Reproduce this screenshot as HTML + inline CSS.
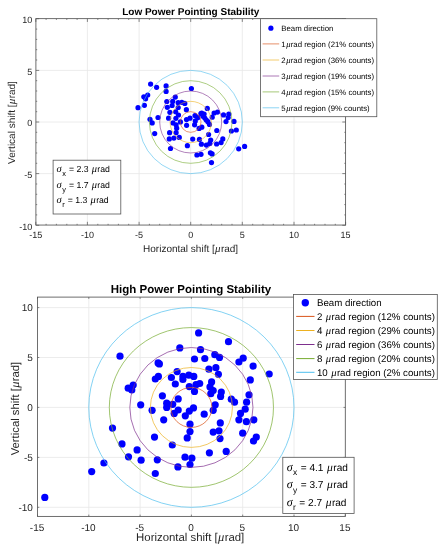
<!DOCTYPE html>
<html><head><meta charset="utf-8"><title>Pointing Stability</title>
<style>html,body{margin:0;padding:0;background:#fff}svg{display:block}text{font-family:"Liberation Sans",Arial,Helvetica,sans-serif;text-rendering:geometricPrecision}.s{font-family:"Liberation Serif","DejaVu Serif",serif;font-style:italic}</style></head><body>
<svg width="443" height="550" viewBox="0 0 443 550">
<rect width="443" height="550" fill="#fff"/>
<path d="M87.4 18.65V225.1M139.1 18.65V225.1M190.7 18.65V225.1M242.3 18.65V225.1M294.0 18.65V225.1M35.9 173.6H345.6M35.9 122.0H345.6M35.9 70.4H345.6" stroke="#e7e7e7" stroke-width="0.8" fill="none"/>
<g fill="#0000ff"><circle cx="150.6" cy="84.1" r="2.6"/><circle cx="156.6" cy="87.3" r="2.6"/><circle cx="166.1" cy="85.9" r="2.6"/><circle cx="166.1" cy="91.4" r="2.6"/><circle cx="147.7" cy="95.0" r="2.6"/><circle cx="143.8" cy="96.8" r="2.6"/><circle cx="145.6" cy="98.8" r="2.6"/><circle cx="144.4" cy="105.3" r="2.6"/><circle cx="138.0" cy="107.7" r="2.6"/><circle cx="166.8" cy="101.5" r="2.6"/><circle cx="167.3" cy="107.3" r="2.6"/><circle cx="169.9" cy="112.3" r="2.6"/><circle cx="158.0" cy="117.5" r="2.6"/><circle cx="168.6" cy="118.2" r="2.6"/><circle cx="150.0" cy="119.3" r="2.6"/><circle cx="152.2" cy="122.9" r="2.6"/><circle cx="191.4" cy="88.5" r="2.6"/><circle cx="175.3" cy="97.1" r="2.6"/><circle cx="172.7" cy="101.4" r="2.6"/><circle cx="172.1" cy="105.5" r="2.6"/><circle cx="178.2" cy="102.7" r="2.6"/><circle cx="181.8" cy="102.3" r="2.6"/><circle cx="184.8" cy="103.4" r="2.6"/><circle cx="178.2" cy="107.5" r="2.6"/><circle cx="186.4" cy="109.7" r="2.6"/><circle cx="175.7" cy="111.8" r="2.6"/><circle cx="178.5" cy="115" r="2.6"/><circle cx="175.9" cy="118.3" r="2.6"/><circle cx="180.4" cy="121.9" r="2.6"/><circle cx="173.0" cy="122.9" r="2.6"/><circle cx="186.5" cy="119.6" r="2.6"/><circle cx="190" cy="118.2" r="2.6"/><circle cx="195" cy="115.5" r="2.6"/><circle cx="197.7" cy="117.7" r="2.6"/><circle cx="200.9" cy="113.6" r="2.6"/><circle cx="204.1" cy="114.1" r="2.6"/><circle cx="195.3" cy="120.9" r="2.6"/><circle cx="204.8" cy="118.0" r="2.6"/><circle cx="207.3" cy="108.4" r="2.6"/><circle cx="217.5" cy="112.1" r="2.6"/><circle cx="214.1" cy="113" r="2.6"/><circle cx="212.2" cy="117.2" r="2.6"/><circle cx="201.7" cy="113.2" r="2.6"/><circle cx="207.9" cy="121.7" r="2.6"/><circle cx="209.5" cy="124.4" r="2.6"/><circle cx="223.5" cy="114.9" r="2.6"/><circle cx="228.8" cy="114" r="2.6"/><circle cx="228.2" cy="117.6" r="2.6"/><circle cx="226" cy="121.6" r="2.6"/><circle cx="234" cy="121.4" r="2.6"/><circle cx="201.8" cy="127.2" r="2.6"/><circle cx="216.8" cy="130.5" r="2.6"/><circle cx="231.4" cy="131" r="2.6"/><circle cx="236.3" cy="130" r="2.6"/><circle cx="208.6" cy="134.5" r="2.6"/><circle cx="176.1" cy="124.8" r="2.6"/><circle cx="176.7" cy="128.2" r="2.6"/><circle cx="186.6" cy="125.3" r="2.6"/><circle cx="154.7" cy="133.6" r="2.6"/><circle cx="169.6" cy="132.7" r="2.6"/><circle cx="176.1" cy="132.7" r="2.6"/><circle cx="169.3" cy="138.9" r="2.6"/><circle cx="173.9" cy="138.1" r="2.6"/><circle cx="179.3" cy="137.4" r="2.6"/><circle cx="187.4" cy="145.7" r="2.6"/><circle cx="170.5" cy="148.5" r="2.6"/><circle cx="194.6" cy="124.8" r="2.6"/><circle cx="199.1" cy="128.4" r="2.6"/><circle cx="192.7" cy="139.1" r="2.6"/><circle cx="199.4" cy="139.4" r="2.6"/><circle cx="210.7" cy="140" r="2.6"/><circle cx="222.8" cy="138.9" r="2.6"/><circle cx="201.4" cy="144.2" r="2.6"/><circle cx="206.4" cy="145.1" r="2.6"/><circle cx="209.8" cy="143.4" r="2.6"/><circle cx="216.6" cy="144" r="2.6"/><circle cx="221.1" cy="142.6" r="2.6"/><circle cx="196.9" cy="155" r="2.6"/><circle cx="201" cy="154.3" r="2.6"/><circle cx="210.4" cy="152.8" r="2.6"/><circle cx="212.1" cy="153.9" r="2.6"/><circle cx="211.5" cy="162.6" r="2.6"/><circle cx="238.7" cy="148.8" r="2.6"/><circle cx="244.6" cy="146.4" r="2.6"/><circle cx="203.0" cy="116.2" r="2.6"/><circle cx="206.3" cy="120.0" r="2.6"/></g>
<circle cx="190.7" cy="122.0" r="10.33" fill="none" stroke="#D95319" stroke-width="0.6"/>
<circle cx="190.7" cy="122.0" r="20.65" fill="none" stroke="#EDB120" stroke-width="0.6"/>
<circle cx="190.7" cy="122.0" r="30.98" fill="none" stroke="#7E2F8E" stroke-width="0.6"/>
<circle cx="190.7" cy="122.0" r="41.31" fill="none" stroke="#77AC30" stroke-width="0.6"/>
<circle cx="190.7" cy="122.0" r="51.63" fill="none" stroke="#4DBEEE" stroke-width="0.6"/>
<path d="M35.8 225.1v-3.3M35.8 18.65v3.3M87.4 225.1v-3.3M87.4 18.65v3.3M139.1 225.1v-3.3M139.1 18.65v3.3M190.7 225.1v-3.3M190.7 18.65v3.3M242.3 225.1v-3.3M242.3 18.65v3.3M294.0 225.1v-3.3M294.0 18.65v3.3M345.6 225.1v-3.3M345.6 18.65v3.3M35.9 225.3h3.3M345.6 225.3h-3.3M35.9 173.6h3.3M345.6 173.6h-3.3M35.9 122.0h3.3M345.6 122.0h-3.3M35.9 70.4h3.3M345.6 70.4h-3.3M35.9 18.7h3.3M345.6 18.7h-3.3M46.1 225.1v-1.3M46.1 18.65v1.3M56.4 225.1v-1.3M56.4 18.65v1.3M66.8 225.1v-1.3M66.8 18.65v1.3M77.1 225.1v-1.3M77.1 18.65v1.3M97.8 225.1v-1.3M97.8 18.65v1.3M108.1 225.1v-1.3M108.1 18.65v1.3M118.4 225.1v-1.3M118.4 18.65v1.3M128.7 225.1v-1.3M128.7 18.65v1.3M149.4 225.1v-1.3M149.4 18.65v1.3M159.7 225.1v-1.3M159.7 18.65v1.3M170.0 225.1v-1.3M170.0 18.65v1.3M180.4 225.1v-1.3M180.4 18.65v1.3M201.0 225.1v-1.3M201.0 18.65v1.3M211.4 225.1v-1.3M211.4 18.65v1.3M221.7 225.1v-1.3M221.7 18.65v1.3M232.0 225.1v-1.3M232.0 18.65v1.3M252.7 225.1v-1.3M252.7 18.65v1.3M263.0 225.1v-1.3M263.0 18.65v1.3M273.3 225.1v-1.3M273.3 18.65v1.3M283.6 225.1v-1.3M283.6 18.65v1.3M304.3 225.1v-1.3M304.3 18.65v1.3M314.6 225.1v-1.3M314.6 18.65v1.3M325.0 225.1v-1.3M325.0 18.65v1.3M335.3 225.1v-1.3M335.3 18.65v1.3M35.9 214.9h1.3M345.6 214.9h-1.3M35.9 204.6h1.3M345.6 204.6h-1.3M35.9 194.3h1.3M345.6 194.3h-1.3M35.9 184.0h1.3M345.6 184.0h-1.3M35.9 163.3h1.3M345.6 163.3h-1.3M35.9 153.0h1.3M345.6 153.0h-1.3M35.9 142.7h1.3M345.6 142.7h-1.3M35.9 132.3h1.3M345.6 132.3h-1.3M35.9 111.7h1.3M345.6 111.7h-1.3M35.9 101.3h1.3M345.6 101.3h-1.3M35.9 91.0h1.3M345.6 91.0h-1.3M35.9 80.7h1.3M345.6 80.7h-1.3M35.9 60.0h1.3M345.6 60.0h-1.3M35.9 49.7h1.3M345.6 49.7h-1.3M35.9 39.4h1.3M345.6 39.4h-1.3M35.9 29.1h1.3M345.6 29.1h-1.3" stroke="#555555" stroke-width="0.7" fill="none"/>
<rect x="35.9" y="18.65" width="309.7" height="206.4" fill="none" stroke="#555555" stroke-width="0.85"/>
<g font-size="9.0" fill="#262626" text-anchor="middle">
<text x="35.8" y="237.5">-15</text>
<text x="87.4" y="237.5">-10</text>
<text x="139.1" y="237.5">-5</text>
<text x="190.7" y="237.5">0</text>
<text x="242.3" y="237.5">5</text>
<text x="294.0" y="237.5">10</text>
<text x="345.6" y="237.5">15</text>
</g>
<g font-size="9.0" fill="#262626" text-anchor="end">
<text x="32.2" y="229.6">-10</text>
<text x="32.2" y="177.9">-5</text>
<text x="32.2" y="126.3">0</text>
<text x="32.2" y="74.7">5</text>
<text x="32.2" y="23.0">10</text>
</g>
<text x="190.6" y="252.4" font-size="10" fill="#262626" text-anchor="middle">Horizontal shift [<tspan class="s" dx="0.3" font-size="1.1em">μ</tspan><tspan dx="0.3">rad]</tspan></text>
<text transform="translate(14.7,122.5) rotate(-90)" font-size="10" fill="#262626" text-anchor="middle">Vertical shift [<tspan class="s" dx="0.3" font-size="1.1em">μ</tspan><tspan dx="0.3">rad]</tspan></text>
<text x="190.8" y="14.6" font-size="10" font-weight="bold" fill="#000" text-anchor="middle">Low Power Pointing Stability</text>
<rect x="260.6" y="18.7" width="116.2" height="98" fill="#fff" stroke="#555555" stroke-width="0.8"/>
<circle cx="270.9" cy="28.2" r="2.6" fill="#0000ff"/>
<g font-size="7.8" fill="#000">
<text x="281.3" y="31.1">Beam direction</text>
<path d="M262.6 43.9H279.2" stroke="#D95319" stroke-width="0.65"/>
<text x="281.3" y="46.8">1<tspan class="s" dx="0.5" font-size="8.6">μ</tspan><tspan dx="0.3">rad region (21% counts)</tspan></text>
<path d="M262.6 60.0H279.2" stroke="#EDB120" stroke-width="0.65"/>
<text x="281.3" y="62.9">2<tspan class="s" dx="0.5" font-size="8.6">μ</tspan><tspan dx="0.3">rad region (36% counts)</tspan></text>
<path d="M262.6 76.0H279.2" stroke="#7E2F8E" stroke-width="0.65"/>
<text x="281.3" y="78.9">3<tspan class="s" dx="0.5" font-size="8.6">μ</tspan><tspan dx="0.3">rad region (19% counts)</tspan></text>
<path d="M262.6 91.9H279.2" stroke="#77AC30" stroke-width="0.65"/>
<text x="281.3" y="94.8">4<tspan class="s" dx="0.5" font-size="8.6">μ</tspan><tspan dx="0.3">rad region (15% counts)</tspan></text>
<path d="M262.6 107.8H279.2" stroke="#4DBEEE" stroke-width="0.65"/>
<text x="281.3" y="110.7">5<tspan class="s" dx="0.5" font-size="8.6">μ</tspan><tspan dx="0.3">rad region (9% counts)</tspan></text>
</g>
<rect x="53.1" y="160.2" width="67.7" height="53.8" fill="#fff" stroke="#555555" stroke-width="0.8"/>
<g font-size="8.7" fill="#000">
<text x="56.6" y="171.9"><tspan class="s" font-size="10.6">σ</tspan><tspan dy="4.2" dx="0.4" font-size="7.4">x</tspan><tspan dy="-4.2" dx="0.6"> = 2.3 </tspan><tspan class="s" dx="0.8" font-size="10.4">μ</tspan><tspan dx="0.4">rad</tspan></text>
<text x="56.6" y="187.6"><tspan class="s" font-size="10.6">σ</tspan><tspan dy="4.2" dx="0.4" font-size="7.4">y</tspan><tspan dy="-4.2" dx="0.6"> = 1.7 </tspan><tspan class="s" dx="0.8" font-size="10.4">μ</tspan><tspan dx="0.4">rad</tspan></text>
<text x="56.6" y="203.2"><tspan class="s" font-size="10.6">σ</tspan><tspan dy="4.2" dx="0.4" font-size="7.4">r</tspan><tspan dy="-4.2" dx="0.6"> = 1.3 </tspan><tspan class="s" dx="0.8" font-size="10.4">μ</tspan><tspan dx="0.4">rad</tspan></text>
</g>
<path d="M88.8 297.1V516.4M140.1 297.1V516.4M191.4 297.1V516.4M242.7 297.1V516.4M294.0 297.1V516.4M37.5 507.3H345.3M37.5 457.4H345.3M37.5 407.4H345.3M37.5 357.5H345.3M37.5 307.6H345.3" stroke="#e7e7e7" stroke-width="0.8" fill="none"/>
<g fill="#0000ff"><circle cx="198.6" cy="332.9" r="3.6"/><circle cx="179.8" cy="347.9" r="3.6"/><circle cx="200.5" cy="349.7" r="3.6"/><circle cx="194.5" cy="359" r="3.6"/><circle cx="158.1" cy="362.9" r="3.6"/><circle cx="159.4" cy="363.9" r="3.6"/><circle cx="177.1" cy="371.6" r="3.6"/><circle cx="158.4" cy="376.4" r="3.6"/><circle cx="155.3" cy="379" r="3.6"/><circle cx="171.4" cy="377.5" r="3.6"/><circle cx="175.3" cy="384" r="3.6"/><circle cx="182.9" cy="376.4" r="3.6"/><circle cx="182.9" cy="379.5" r="3.6"/><circle cx="188.8" cy="375.2" r="3.6"/><circle cx="193.8" cy="376.4" r="3.6"/><circle cx="189.3" cy="386.6" r="3.6"/><circle cx="128.2" cy="388.2" r="3.6"/><circle cx="133.2" cy="385" r="3.6"/><circle cx="131.8" cy="390" r="3.6"/><circle cx="194.5" cy="391.4" r="3.6"/><circle cx="162.4" cy="395.8" r="3.6"/><circle cx="228.5" cy="341.7" r="3.6"/><circle cx="204.8" cy="358.5" r="3.6"/><circle cx="214.8" cy="354.7" r="3.6"/><circle cx="219.5" cy="357.4" r="3.6"/><circle cx="243.2" cy="358.2" r="3.6"/><circle cx="238.9" cy="362" r="3.6"/><circle cx="253.1" cy="366.1" r="3.6"/><circle cx="208.9" cy="369.2" r="3.6"/><circle cx="215.9" cy="367.7" r="3.6"/><circle cx="218.4" cy="374.3" r="3.6"/><circle cx="250.3" cy="379.9" r="3.6"/><circle cx="211.6" cy="381.9" r="3.6"/><circle cx="196" cy="384.7" r="3.6"/><circle cx="199.7" cy="383.5" r="3.6"/><circle cx="210" cy="386.9" r="3.6"/><circle cx="213.2" cy="390.5" r="3.6"/><circle cx="221.3" cy="392.1" r="3.6"/><circle cx="249" cy="394.8" r="3.6"/><circle cx="210.8" cy="393.7" r="3.6"/><circle cx="220.6" cy="396.4" r="3.6"/><circle cx="231.3" cy="399.2" r="3.6"/><circle cx="234.5" cy="402.2" r="3.6"/><circle cx="246.6" cy="402.2" r="3.6"/><circle cx="215.2" cy="404.8" r="3.6"/><circle cx="213.2" cy="410.3" r="3.6"/><circle cx="204.2" cy="414.2" r="3.6"/><circle cx="245.2" cy="409.2" r="3.6"/><circle cx="240.5" cy="413.4" r="3.6"/><circle cx="238.9" cy="419.8" r="3.6"/><circle cx="246.4" cy="421.7" r="3.6"/><circle cx="253.8" cy="419.8" r="3.6"/><circle cx="220.3" cy="422.9" r="3.6"/><circle cx="219" cy="430.8" r="3.6"/><circle cx="213.2" cy="432.1" r="3.6"/><circle cx="220" cy="438.6" r="3.6"/><circle cx="242.7" cy="433.2" r="3.6"/><circle cx="256.3" cy="437.1" r="3.6"/><circle cx="253.5" cy="441" r="3.6"/><circle cx="209.4" cy="452.8" r="3.6"/><circle cx="226.2" cy="451.4" r="3.6"/><circle cx="178.2" cy="398.9" r="3.6"/><circle cx="140.7" cy="404.8" r="3.6"/><circle cx="166.7" cy="403.2" r="3.6"/><circle cx="172.7" cy="404.3" r="3.6"/><circle cx="166.7" cy="407.4" r="3.6"/><circle cx="152.1" cy="410.3" r="3.6"/><circle cx="178.2" cy="410" r="3.6"/><circle cx="174.2" cy="413.4" r="3.6"/><circle cx="193.5" cy="407.9" r="3.6"/><circle cx="189.3" cy="411.1" r="3.6"/><circle cx="185.3" cy="415.8" r="3.6"/><circle cx="163.7" cy="419.8" r="3.6"/><circle cx="190" cy="424.2" r="3.6"/><circle cx="190" cy="431.6" r="3.6"/><circle cx="187.2" cy="437.9" r="3.6"/><circle cx="154.5" cy="437.1" r="3.6"/><circle cx="172.3" cy="445" r="3.6"/><circle cx="137.1" cy="449.9" r="3.6"/><circle cx="141.1" cy="460.2" r="3.6"/><circle cx="157.3" cy="459.8" r="3.6"/><circle cx="128.5" cy="456.8" r="3.6"/><circle cx="185" cy="457.2" r="3.6"/><circle cx="191.9" cy="458.2" r="3.6"/><circle cx="190" cy="464.5" r="3.6"/><circle cx="177.9" cy="466.9" r="3.6"/><circle cx="155.3" cy="473.5" r="3.6"/><circle cx="120" cy="356.2" r="3.6"/><circle cx="112.5" cy="428.1" r="3.6"/><circle cx="122" cy="443.9" r="3.6"/><circle cx="103.9" cy="463" r="3.6"/><circle cx="91.7" cy="471.6" r="3.6"/><circle cx="44.8" cy="497.4" r="3.6"/><circle cx="269.2" cy="374" r="3.6"/></g>
<ellipse cx="191.4" cy="407.45" rx="20.52" ry="19.97" fill="none" stroke="#D95319" stroke-width="0.7"/>
<ellipse cx="191.4" cy="407.45" rx="41.04" ry="39.94" fill="none" stroke="#EDB120" stroke-width="0.7"/>
<ellipse cx="191.4" cy="407.45" rx="61.56" ry="59.91" fill="none" stroke="#7E2F8E" stroke-width="0.7"/>
<ellipse cx="191.4" cy="407.45" rx="82.08" ry="79.88" fill="none" stroke="#77AC30" stroke-width="0.7"/>
<ellipse cx="191.4" cy="407.45" rx="102.60" ry="99.85" fill="none" stroke="#4DBEEE" stroke-width="0.7"/>
<path d="M37.5 516.4v-1.8M37.5 297.1v1.8M88.8 516.4v-1.8M88.8 297.1v1.8M140.1 516.4v-1.8M140.1 297.1v1.8M191.4 516.4v-1.8M191.4 297.1v1.8M242.7 516.4v-1.8M242.7 297.1v1.8M294.0 516.4v-1.8M294.0 297.1v1.8M345.3 516.4v-1.8M345.3 297.1v1.8M37.5 507.3h1.8M345.3 507.3h-1.8M37.5 457.4h1.8M345.3 457.4h-1.8M37.5 407.4h1.8M345.3 407.4h-1.8M37.5 357.5h1.8M345.3 357.5h-1.8M37.5 307.6h1.8M345.3 307.6h-1.8" stroke="#555555" stroke-width="0.7" fill="none"/>
<rect x="37.5" y="297.1" width="307.8" height="219.3" fill="none" stroke="#555555" stroke-width="0.85"/>
<g font-size="10.0" fill="#262626" text-anchor="middle">
<text x="37.1" y="531.2">-15</text>
<text x="88.4" y="531.2">-10</text>
<text x="139.7" y="531.2">-5</text>
<text x="191.0" y="531.2">0</text>
<text x="242.3" y="531.2">5</text>
<text x="293.6" y="531.2">10</text>
<text x="344.9" y="531.2">15</text>
</g>
<g font-size="10.0" fill="#262626" text-anchor="end">
<text x="32.9" y="511.1">-10</text>
<text x="32.9" y="461.2">-5</text>
<text x="32.9" y="411.2">0</text>
<text x="32.9" y="361.3">5</text>
<text x="32.9" y="311.4">10</text>
</g>
<text x="190.2" y="540.8" font-size="11.4" fill="#262626" text-anchor="middle">Horizontal shift [<tspan class="s" dx="0.3" font-size="1.1em">μ</tspan><tspan dx="0.3">rad]</tspan></text>
<text transform="translate(18.6,408.6) rotate(-90)" font-size="11.3" fill="#262626" text-anchor="middle">Vertical shift [<tspan class="s" dx="0.3" font-size="1.1em">μ</tspan><tspan dx="0.3">rad]</tspan></text>
<text x="191.0" y="293" font-size="11.5" font-weight="bold" fill="#000" text-anchor="middle">High Power Pointing Stability</text>
<rect x="293.5" y="294.5" width="143.8" height="84.9" fill="#fff" stroke="#555555" stroke-width="0.8"/>
<circle cx="305.3" cy="302.8" r="3.7" fill="#0000ff"/>
<g font-size="9.7" fill="#000">
<text x="317.0" y="305.9">Beam direction</text>
<path d="M296.2 316.4H314.5" stroke="#D95319" stroke-width="1"/>
<text x="316.9" y="319.9">2 <tspan class="s" dx="0.8" font-size="10.6">μ</tspan><tspan dx="0.4">rad region (12% counts)</tspan></text>
<path d="M296.2 330.5H314.5" stroke="#EDB120" stroke-width="1"/>
<text x="316.9" y="334.0">4 <tspan class="s" dx="0.8" font-size="10.6">μ</tspan><tspan dx="0.4">rad region (29% counts)</tspan></text>
<path d="M296.2 344.5H314.5" stroke="#7E2F8E" stroke-width="1"/>
<text x="316.9" y="348.0">6 <tspan class="s" dx="0.8" font-size="10.6">μ</tspan><tspan dx="0.4">rad region (36% counts)</tspan></text>
<path d="M296.2 358.6H314.5" stroke="#77AC30" stroke-width="1"/>
<text x="316.9" y="362.1">8 <tspan class="s" dx="0.8" font-size="10.6">μ</tspan><tspan dx="0.4">rad region (20% counts)</tspan></text>
<path d="M296.2 372.3H314.5" stroke="#4DBEEE" stroke-width="1"/>
<text x="316.9" y="375.8">10 <tspan class="s" dx="0.8" font-size="10.6">μ</tspan><tspan dx="0.4">rad region (2% counts)</tspan></text>
</g>
<rect x="282.8" y="457.3" width="71.3" height="56.3" fill="#fff" stroke="#555555" stroke-width="0.8"/>
<g font-size="10.1" fill="#000">
<text x="286.8" y="470.8"><tspan class="s" font-size="12">σ</tspan><tspan dy="4.6" dx="0.4" font-size="8.4">x</tspan><tspan dy="-4.6" dx="0.6"> = 4.1 </tspan><tspan class="s" dx="0.8" font-size="11.6">μ</tspan><tspan dx="0.4">rad</tspan></text>
<text x="286.8" y="488.3"><tspan class="s" font-size="12">σ</tspan><tspan dy="4.6" dx="0.4" font-size="8.4">y</tspan><tspan dy="-4.6" dx="0.6"> = 3.7 </tspan><tspan class="s" dx="0.8" font-size="11.6">μ</tspan><tspan dx="0.4">rad</tspan></text>
<text x="286.8" y="505.6"><tspan class="s" font-size="12">σ</tspan><tspan dy="4.6" dx="0.4" font-size="8.4">r</tspan><tspan dy="-4.6" dx="0.6"> = 2.7 </tspan><tspan class="s" dx="0.8" font-size="11.6">μ</tspan><tspan dx="0.4">rad</tspan></text>
</g>
</svg></body></html>
